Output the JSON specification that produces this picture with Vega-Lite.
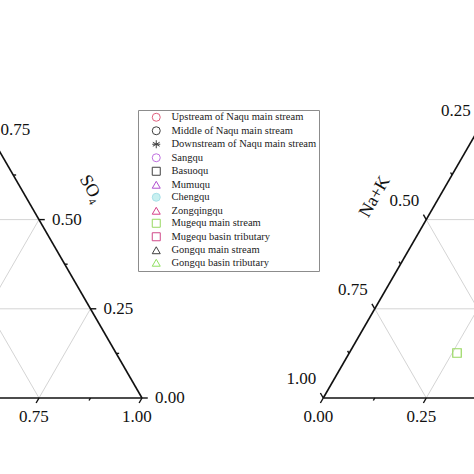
{
  "$schema": "https://vega.github.io/schema/vega-lite/v6.json",
  "width": 474,
  "height": 474,
  "autosize": {"type": "none"},
  "padding": 0,
  "background": "white",
  "config": {
    "view": {"stroke": null},
    "text": {"font": "Liberation Serif", "fontSize": 17, "color": "#111"}
  },
  "encoding": {
    "x": {"field": "x", "type": "quantitative", "scale": {"domain": [0.65534, 1.80583], "zero": false, "nice": false}, "axis": null},
    "y": {"field": "y", "type": "quantitative", "scale": {"domain": [-0.18447, 0.96602], "zero": false, "nice": false}, "axis": null}
  },
  "layer": [
    {
      "data": {"values": [
        {"x": 0.125, "y": 0.2165, "x2": 0.875, "y2": 0.2165},
        {"x": 0.25, "y": 0.433, "x2": 0.75, "y2": 0.433},
        {"x": 0.375, "y": 0.6495, "x2": 0.625, "y2": 0.6495},
        {"x": 0.25, "y": 0, "x2": 0.625, "y2": 0.6495},
        {"x": 0.5, "y": 0, "x2": 0.75, "y2": 0.433},
        {"x": 0.75, "y": 0, "x2": 0.875, "y2": 0.2165},
        {"x": 0.25, "y": 0, "x2": 0.125, "y2": 0.2165},
        {"x": 0.5, "y": 0, "x2": 0.25, "y2": 0.433},
        {"x": 0.75, "y": 0, "x2": 0.375, "y2": 0.6495},
        {"x": 1.565, "y": 0.2165, "x2": 2.315, "y2": 0.2165},
        {"x": 1.69, "y": 0.433, "x2": 2.19, "y2": 0.433},
        {"x": 1.815, "y": 0.6495, "x2": 2.065, "y2": 0.6495},
        {"x": 1.69, "y": 0, "x2": 2.065, "y2": 0.6495},
        {"x": 1.94, "y": 0, "x2": 2.19, "y2": 0.433},
        {"x": 2.19, "y": 0, "x2": 2.315, "y2": 0.2165},
        {"x": 1.69, "y": 0, "x2": 1.565, "y2": 0.2165},
        {"x": 1.94, "y": 0, "x2": 1.69, "y2": 0.433},
        {"x": 2.19, "y": 0, "x2": 1.815, "y2": 0.6495}
      ]},
      "mark": {"type": "rule", "color": "#d4d4d4", "strokeWidth": 1},
      "encoding": {"x2": {"field": "x2"}, "y2": {"field": "y2"}}
    },
    {
      "data": {"values": [
        {"x": 0, "y": 0, "x2": 1, "y2": 0},
        {"x": 1, "y": 0, "x2": 0.5, "y2": 0.866},
        {"x": 0, "y": 0, "x2": 0.5, "y2": 0.866},
        {"x": 1.44, "y": 0, "x2": 2.44, "y2": 0},
        {"x": 1.44, "y": 0, "x2": 1.94, "y2": 0.866},
        {"x": 2.44, "y": 0, "x2": 1.94, "y2": 0.866}
      ]},
      "mark": {"type": "rule", "color": "#111", "strokeWidth": 1.6},
      "encoding": {"x2": {"field": "x2"}, "y2": {"field": "y2"}}
    },
    {
      "data": {"values": [
        {"x": 0, "y": 0, "x2": -0.007, "y2": -0.0121},
        {"x": 0.125, "y": 0, "x2": 0.1215, "y2": -0.0061},
        {"x": 0.25, "y": 0, "x2": 0.243, "y2": -0.0121},
        {"x": 0.375, "y": 0, "x2": 0.3715, "y2": -0.0061},
        {"x": 0.5, "y": 0, "x2": 0.493, "y2": -0.0121},
        {"x": 0.625, "y": 0, "x2": 0.6215, "y2": -0.0061},
        {"x": 0.75, "y": 0, "x2": 0.743, "y2": -0.0121},
        {"x": 0.875, "y": 0, "x2": 0.8715, "y2": -0.0061},
        {"x": 1, "y": 0, "x2": 0.993, "y2": -0.0121},
        {"x": 1, "y": 0, "x2": 1.014, "y2": 0},
        {"x": 0.9375, "y": 0.10825, "x2": 0.9445, "y2": 0.10825},
        {"x": 0.875, "y": 0.2165, "x2": 0.889, "y2": 0.2165},
        {"x": 0.8125, "y": 0.32475, "x2": 0.8195, "y2": 0.32475},
        {"x": 0.75, "y": 0.433, "x2": 0.764, "y2": 0.433},
        {"x": 0.6875, "y": 0.54125, "x2": 0.6945, "y2": 0.54125},
        {"x": 0.625, "y": 0.6495, "x2": 0.639, "y2": 0.6495},
        {"x": 0.5625, "y": 0.75775, "x2": 0.5695, "y2": 0.75775},
        {"x": 0.5, "y": 0.866, "x2": 0.514, "y2": 0.866},
        {"x": 1.44, "y": 0, "x2": 1.433, "y2": -0.0121},
        {"x": 1.565, "y": 0, "x2": 1.5615, "y2": -0.0061},
        {"x": 1.69, "y": 0, "x2": 1.683, "y2": -0.0121},
        {"x": 1.815, "y": 0, "x2": 1.8115, "y2": -0.0061},
        {"x": 1.94, "y": 0, "x2": 1.933, "y2": -0.0121},
        {"x": 1.44, "y": 0, "x2": 1.433, "y2": 0.0121},
        {"x": 1.5025, "y": 0.10825, "x2": 1.499, "y2": 0.11435},
        {"x": 1.565, "y": 0.2165, "x2": 1.558, "y2": 0.2286},
        {"x": 1.6275, "y": 0.32475, "x2": 1.624, "y2": 0.33085},
        {"x": 1.69, "y": 0.433, "x2": 1.683, "y2": 0.4451},
        {"x": 1.7525, "y": 0.54125, "x2": 1.749, "y2": 0.54735},
        {"x": 1.815, "y": 0.6495, "x2": 1.808, "y2": 0.6616},
        {"x": 1.8775, "y": 0.75775, "x2": 1.874, "y2": 0.76385},
        {"x": 1.94, "y": 0.866, "x2": 1.933, "y2": 0.8781}
      ]},
      "mark": {"type": "rule", "color": "#111", "strokeWidth": 1.4},
      "encoding": {"x2": {"field": "x2"}, "y2": {"field": "y2"}}
    },
    {
      "data": {"values": [
        {"x": 0.75, "y": 0, "label": "0.75"},
        {"x": 1, "y": 0, "label": "1.00"},
        {"x": 1.44, "y": 0, "label": "0.00"},
        {"x": 1.69, "y": 0, "label": "0.25"}
      ]},
      "mark": {"type": "text", "align": "center", "baseline": "middle", "dx": -5, "dy": 19},
      "encoding": {"text": {"field": "label"}}
    },
    {
      "data": {"values": [
        {"x": 1, "y": 0, "label": "0.00"},
        {"x": 0.875, "y": 0.2165, "label": "0.25"},
        {"x": 0.75, "y": 0.433, "label": "0.50"},
        {"x": 0.625, "y": 0.6495, "label": "0.75"}
      ]},
      "mark": {"type": "text", "align": "left", "baseline": "middle", "dx": 13, "dy": 0},
      "encoding": {"text": {"field": "label"}}
    },
    {
      "data": {"values": [
        {"x": 1.44, "y": 0, "label": "1.00"},
        {"x": 1.565, "y": 0.2165, "label": "0.75"},
        {"x": 1.69, "y": 0.433, "label": "0.50"},
        {"x": 1.815, "y": 0.6495, "label": "0.25"}
      ]},
      "mark": {"type": "text", "align": "center", "baseline": "middle", "dx": -22, "dy": -19},
      "encoding": {"text": {"field": "label"}}
    },
    {
      "data": {"values": [{"x": 0.876, "y": 0.507, "label": "SO₄"}]},
      "mark": {"type": "text", "align": "center", "baseline": "middle", "angle": 60, "fontSize": 18},
      "encoding": {"text": {"field": "label"}}
    },
    {
      "data": {"values": [{"x": 1.5655, "y": 0.488, "label": "Na+K"}]},
      "mark": {"type": "text", "align": "center", "baseline": "middle", "angle": -60, "fontSize": 18},
      "encoding": {"text": {"field": "label"}}
    },
    {
      "data": {"values": [{"site": "Mugequ main stream", "x": 1.7646, "y": 0.1092}]},
      "mark": {"type": "point", "size": 72, "strokeWidth": 1.2, "opacity": 1},
      "encoding": {
        "stroke": {
          "field": "site", "type": "nominal",
          "scale": {
            "domain": ["Upstream of Naqu main stream", "Middle of Naqu main stream", "Downstream of Naqu main stream", "Sangqu", "Basuoqu", "Mumuqu", "Chengqu", "Zongqingqu", "Mugequ main stream", "Mugequ basin tributary", "Gongqu main stream", "Gongqu basin tributary"],
            "range": ["#e0607e", "#404040", "#404040", "#c070e0", "#404040", "#b050d0", "#a8e0e8", "#d6408a", "#98d860", "#d04888", "#404040", "#90e060"]
          },
          "legend": {
            "title": null, "orient": "none", "legendX": 138, "legendY": 110,
            "strokeColor": "#8c8c8c", "padding": 2, "symbolOffset": 11,
            "labelFont": "Liberation Serif", "labelFontSize": 10.5, "labelColor": "#222",
            "labelOffset": 10, "rowPadding": 0.5, "symbolSize": 64, "symbolStrokeWidth": 1,
            "labelLimit": 300
          }
        },
        "fill": {
          "field": "site", "type": "nominal",
          "scale": {
            "domain": ["Upstream of Naqu main stream", "Middle of Naqu main stream", "Downstream of Naqu main stream", "Sangqu", "Basuoqu", "Mumuqu", "Chengqu", "Zongqingqu", "Mugequ main stream", "Mugequ basin tributary", "Gongqu main stream", "Gongqu basin tributary"],
            "range": ["transparent", "transparent", "transparent", "transparent", "transparent", "transparent", "#c8f0f0", "transparent", "transparent", "transparent", "transparent", "transparent"]
          }
        },
        "shape": {
          "field": "site", "type": "nominal",
          "scale": {
            "domain": ["Upstream of Naqu main stream", "Middle of Naqu main stream", "Downstream of Naqu main stream", "Sangqu", "Basuoqu", "Mumuqu", "Chengqu", "Zongqingqu", "Mugequ main stream", "Mugequ basin tributary", "Gongqu main stream", "Gongqu basin tributary"],
            "range": ["circle", "circle", "M0,-1V1M-0.85,-0.5L0.85,0.5M-0.85,0.5L0.85,-0.5M-1,0H1", "circle", "square", "triangle-up", "circle", "triangle-up", "square", "square", "triangle-up", "triangle-up"]
          }
        }
      }
    }
  ]
}
